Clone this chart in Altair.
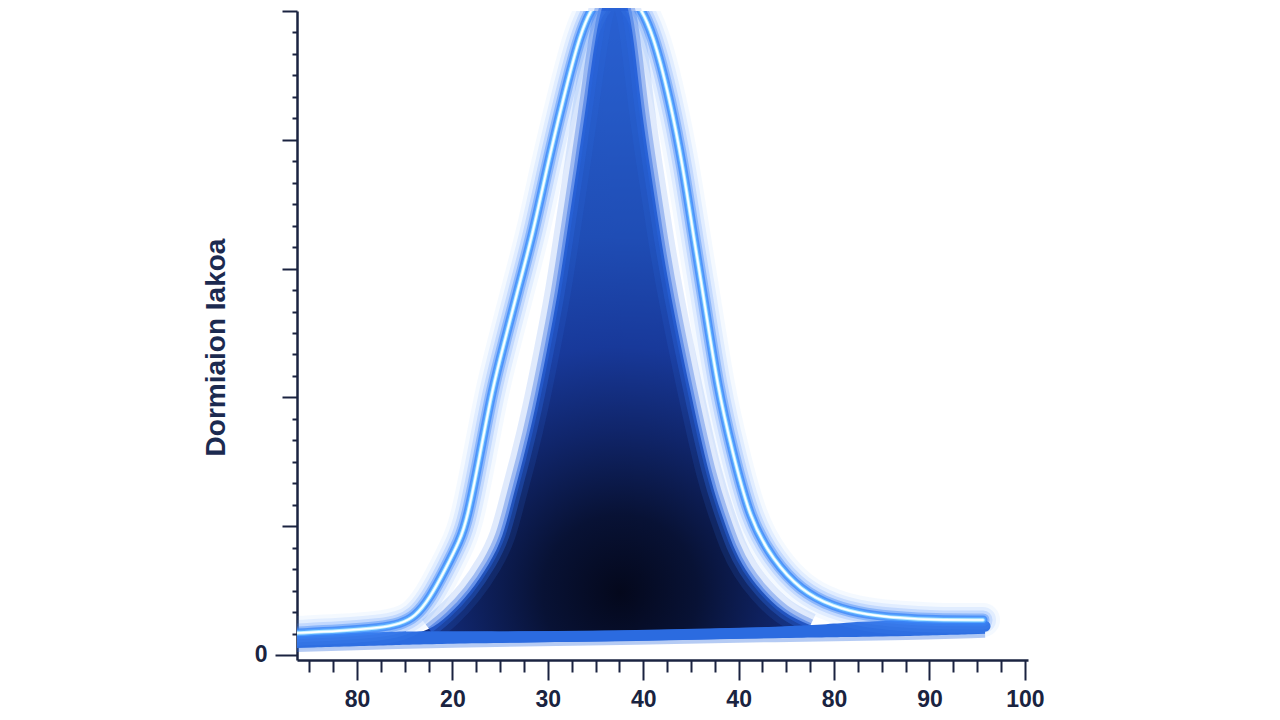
import json
import altair as alt
import pandas as pd

# ---- data ----
# outer glowing bell curve
curve_x = [3.71, 8.22, 12.41, 14.51, 16.08, 17.65, 19.22, 20.80, 21.53, 22.89,
           24.15, 25.51, 26.77, 28.45, 29.92, 31.59, 33.37, 34.95, 37.15, 39.35,
           41.03, 42.81, 44.17, 45.22, 46.27, 47.84, 49.31, 51.19, 53.61, 56.44,
           59.89, 63.46, 66.92, 70.38, 75.62]
curve_y = [0.171, 0.186, 0.210, 0.241, 0.295, 0.443, 0.660, 0.893, 1.048, 1.553,
           2.057, 2.446, 2.811, 3.276, 3.789, 4.309, 4.829, 5.085, 5.200, 5.085,
           4.829, 4.309, 3.789, 3.276, 2.811, 2.057, 1.592, 1.048, 0.738, 0.505,
           0.373, 0.311, 0.287, 0.272, 0.272]

# dark filled peak
peak_x = [14.51, 17.65, 19.43, 21.84, 23.94, 25.30, 26.25, 27.40, 28.66, 29.92,
          31.07, 32.01, 33.06, 34.11, 35.47, 37.04, 38.62, 39.66, 40.71, 41.76,
          42.81, 44.90, 47.00, 48.26, 49.41, 50.67, 52.24, 54.65, 57.48, 60.63]
peak_y = [0.132, 0.194, 0.295, 0.481, 0.714, 0.916, 1.203, 1.514, 1.902, 2.368,
          2.811, 3.276, 3.789, 4.309, 5.085, 5.200, 5.085, 4.309, 3.789, 3.276,
          2.811, 2.057, 1.359, 1.087, 0.839, 0.660, 0.505, 0.326, 0.225, 0.163]
PEAK_BASE = 0.15

# bottom band
band_x = [3.71, 14.51, 17.65, 35.47, 56.44, 61.68, 66.92, 75.83]
band_top = [0.170, 0.180, 0.185, 0.180, 0.220, 0.255, 0.270, 0.280]
band_bottom = [0.054, 0.078, 0.085, 0.105, 0.135, 0.140, 0.145, 0.165]

# axes
x_labels = ["80", "20", "30", "40", "40", "80", "90", "100"]
x_ticks = [5 + 2.5 * i for i in range(31)]
y_ticks = [i / 6 for i in range(31)]
X_DOMAIN = [3.71, 80.33]
Y_DOMAIN = [-0.039, 5.0]
Y_TITLE = "Dormiaion Iakoa"

INK = "#1a2340"
FONT = "Liberation Sans"

curve = pd.DataFrame({"x": curve_x, "y": curve_y})
peak = pd.DataFrame({"x": peak_x, "y": peak_y, "base": [PEAK_BASE] * len(peak_x)})
band = pd.DataFrame({"x": band_x, "top": band_top, "bottom": band_bottom})

xscale = alt.Scale(domain=X_DOMAIN, nice=False, zero=False)
yscale = alt.Scale(domain=Y_DOMAIN, nice=False, zero=False)

label_expr = ("datum.value % 10 === 0 ? " + json.dumps(x_labels)
              + "[round(datum.value / 10) - 1] : ''")

x_axis = alt.Axis(
    values=x_ticks, labelExpr=label_expr, title=None, grid=False,
    domainColor=INK, domainWidth=2.5, tickColor=INK, tickWidth=2,
    tickSize={"condition": {"test": "datum.value % 10 === 0", "value": 20}, "value": 12},
    labelFont=FONT, labelFontSize=23, labelFontWeight="bold", labelColor=INK,
    labelPadding=8, labelFlush=False, labelOverlap=False,
)
y_axis = alt.Axis(
    values=y_ticks, labelExpr="abs(datum.value) < 0.001 ? '0' : ''",
    title=Y_TITLE, grid=False,
    domainColor=INK, domainWidth=2.5, tickColor=INK, tickWidth=2,
    tickSize={"condition": [
        {"test": "abs(datum.value) < 0.001", "value": 22},
        {"test": "abs(datum.value - round(datum.value)) < 0.001", "value": 15},
    ], "value": 5},
    labelFont=FONT, labelFontSize=23, labelFontWeight="bold", labelColor=INK,
    labelPadding=8, labelFlush=False, labelOverlap=False, labelBaseline="middle",
    titleFont=FONT, titleFontSize=28, titleFontWeight="bold", titleColor="#1c2a50",
    titleX=-81, titleY=336, titleAngle=270, titleAlign="center", titleBaseline="middle",
)

X = alt.X("x:Q", scale=xscale, axis=x_axis)
Y = alt.Y("y:Q", scale=yscale, axis=y_axis)

base_curve = alt.Chart(curve).encode(x=X, y=Y)
base_peak = alt.Chart(peak).encode(x=X, y=Y)

INTERP = "basis"

peak_fill = base_peak.mark_area(
    interpolate=INTERP,
    fill=alt.RadialGradient(
        gradient="radial",
        x1=0.5, y1=0.93, r1=0, x2=0.5, y2=0.93, r2=1.0,
        stops=[
            alt.GradientStop(offset=0.0, color="#04081c"),
            alt.GradientStop(offset=0.12, color="#081235"),
            alt.GradientStop(offset=0.25, color="#10256a"),
            alt.GradientStop(offset=0.38, color="#18399a"),
            alt.GradientStop(offset=0.55, color="#1f4db5"),
            alt.GradientStop(offset=0.75, color="#2559c6"),
            alt.GradientStop(offset=1.0, color="#2b64d8"),
        ],
    ),
).encode(y2="base:Q")

peak_edge_base = base_peak.transform_filter("datum.x > 15 && datum.x < 60")
peak_edges = [
    peak_edge_base.mark_line(interpolate=INTERP, color="#2f6fe8", strokeWidth=26, opacity=0.15),
    peak_edge_base.mark_line(interpolate=INTERP, color="#2a66e0", strokeWidth=14, opacity=0.35),
    peak_edge_base.mark_line(interpolate=INTERP, color="#2a66e0", strokeWidth=6, opacity=0.5),
]

band_area = alt.Chart(band).mark_area(interpolate=INTERP, color="#2b6be0").encode(
    x=X,
    y=alt.Y("top:Q", scale=yscale, axis=y_axis),
    y2="bottom:Q",
)
band_glow = alt.Chart(band).mark_line(interpolate=INTERP, color="#2b6be0",
                                      strokeWidth=8, opacity=0.35, clip=True).encode(
    x=X, y=alt.Y("bottom:Q", scale=yscale, axis=y_axis),
)
band_cap = alt.Chart(band).transform_calculate(
    mid="(datum.top + datum.bottom) / 2"
).mark_line(interpolate=INTERP, color="#2b6be0", strokeWidth=11,
            strokeCap="round", clip=True).encode(
    x=X, y=alt.Y("mid:Q", scale=yscale, axis=y_axis),
)

glow_specs = [
    ("#6aa6ff", 34, 0.07),
    ("#5b9bff", 26, 0.12),
    ("#4a8cf8", 19, 0.20),
    ("#3d84f5", 13, 0.40),
    ("#3a86f8", 9, 0.75),
    ("#5aaaff", 6, 0.95),
    ("#b8ecff", 3.5, 1.0),
    ("#ffffff", 1.6, 1.0),
]
glow = [
    base_curve.mark_line(interpolate=INTERP, color=c, strokeWidth=w,
                         opacity=o, strokeCap="round", clip=True)
    for c, w, o in glow_specs
]

chart = alt.layer(
    peak_fill, *peak_edges, band_glow, band_area, band_cap, *glow
).properties(
    width=731, height=649,
    autosize="none",
    padding={"left": 289, "top": 3, "right": 40, "bottom": 50},
    background="white",
).configure_view(stroke=None)

chart.save("out.html", embed_options={"renderer": "svg", "actions": False})
